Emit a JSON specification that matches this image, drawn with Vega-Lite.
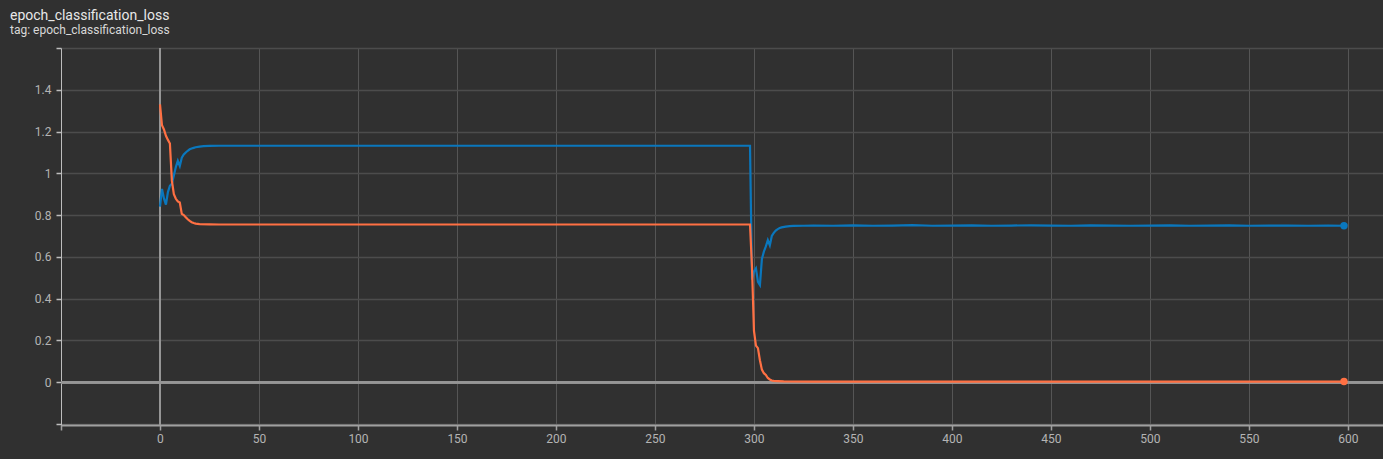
{
  "$schema": "https://vega.github.io/schema/vega-lite/v6.json",
  "autosize": "none",
  "width": 1322,
  "height": 377,
  "padding": {"left": 61, "top": 48, "right": 0, "bottom": 34},
  "background": "#303030",
  "title": {
    "text": "epoch_classification_loss",
    "subtitle": "tag: epoch_classification_loss",
    "anchor": "start",
    "frame": "group",
    "dx": -51,
    "offset": 11,
    "font": "Roboto",
    "fontSize": 14,
    "fontWeight": "normal",
    "color": "#e8e8e8",
    "subtitleFont": "Roboto",
    "subtitleFontSize": 12,
    "subtitleColor": "#d8d8d8",
    "subtitlePadding": 2
  },
  "config": {
    "view": {"stroke": null},
    "axis": {
      "labelFont": "Roboto",
      "labelFontSize": 12,
      "labelColor": "#b4b4b4",
      "tickSize": 5
    }
  },
  "data": {
    "values": [
      {"run": "validation", "step": 0, "value": 0.84},
      {"run": "validation", "step": 1, "value": 0.925},
      {"run": "validation", "step": 2, "value": 0.88},
      {"run": "validation", "step": 3, "value": 0.85},
      {"run": "validation", "step": 4, "value": 0.91},
      {"run": "validation", "step": 5, "value": 0.94},
      {"run": "validation", "step": 6, "value": 0.95},
      {"run": "validation", "step": 7, "value": 0.99},
      {"run": "validation", "step": 8, "value": 1.03},
      {"run": "validation", "step": 9, "value": 1.06},
      {"run": "validation", "step": 10, "value": 1.035},
      {"run": "validation", "step": 11, "value": 1.075},
      {"run": "validation", "step": 12, "value": 1.09},
      {"run": "validation", "step": 13, "value": 1.1},
      {"run": "validation", "step": 14, "value": 1.108},
      {"run": "validation", "step": 15, "value": 1.115},
      {"run": "validation", "step": 16, "value": 1.119},
      {"run": "validation", "step": 17, "value": 1.122},
      {"run": "validation", "step": 18, "value": 1.125},
      {"run": "validation", "step": 20, "value": 1.128},
      {"run": "validation", "step": 22, "value": 1.13},
      {"run": "validation", "step": 25, "value": 1.131},
      {"run": "validation", "step": 30, "value": 1.132},
      {"run": "validation", "step": 40, "value": 1.132},
      {"run": "validation", "step": 50, "value": 1.132},
      {"run": "validation", "step": 60, "value": 1.132},
      {"run": "validation", "step": 70, "value": 1.132},
      {"run": "validation", "step": 80, "value": 1.132},
      {"run": "validation", "step": 90, "value": 1.132},
      {"run": "validation", "step": 100, "value": 1.132},
      {"run": "validation", "step": 120, "value": 1.132},
      {"run": "validation", "step": 140, "value": 1.132},
      {"run": "validation", "step": 160, "value": 1.132},
      {"run": "validation", "step": 180, "value": 1.132},
      {"run": "validation", "step": 200, "value": 1.132},
      {"run": "validation", "step": 220, "value": 1.132},
      {"run": "validation", "step": 240, "value": 1.132},
      {"run": "validation", "step": 260, "value": 1.132},
      {"run": "validation", "step": 280, "value": 1.132},
      {"run": "validation", "step": 298, "value": 1.132},
      {"run": "validation", "step": 299, "value": 0.49},
      {"run": "validation", "step": 300, "value": 0.53},
      {"run": "validation", "step": 301, "value": 0.545},
      {"run": "validation", "step": 302, "value": 0.48},
      {"run": "validation", "step": 303, "value": 0.465},
      {"run": "validation", "step": 304, "value": 0.59},
      {"run": "validation", "step": 305, "value": 0.625},
      {"run": "validation", "step": 306, "value": 0.65},
      {"run": "validation", "step": 307, "value": 0.68},
      {"run": "validation", "step": 308, "value": 0.655},
      {"run": "validation", "step": 309, "value": 0.7},
      {"run": "validation", "step": 310, "value": 0.715},
      {"run": "validation", "step": 311, "value": 0.726},
      {"run": "validation", "step": 312, "value": 0.733},
      {"run": "validation", "step": 313, "value": 0.738},
      {"run": "validation", "step": 314, "value": 0.741},
      {"run": "validation", "step": 316, "value": 0.745},
      {"run": "validation", "step": 318, "value": 0.747},
      {"run": "validation", "step": 320, "value": 0.748},
      {"run": "validation", "step": 325, "value": 0.749},
      {"run": "validation", "step": 330, "value": 0.75},
      {"run": "validation", "step": 340, "value": 0.749},
      {"run": "validation", "step": 350, "value": 0.751},
      {"run": "validation", "step": 360, "value": 0.749},
      {"run": "validation", "step": 370, "value": 0.75},
      {"run": "validation", "step": 380, "value": 0.752},
      {"run": "validation", "step": 390, "value": 0.749},
      {"run": "validation", "step": 400, "value": 0.75},
      {"run": "validation", "step": 410, "value": 0.751},
      {"run": "validation", "step": 420, "value": 0.749},
      {"run": "validation", "step": 430, "value": 0.75},
      {"run": "validation", "step": 440, "value": 0.751},
      {"run": "validation", "step": 450, "value": 0.75},
      {"run": "validation", "step": 460, "value": 0.749},
      {"run": "validation", "step": 470, "value": 0.751},
      {"run": "validation", "step": 480, "value": 0.75},
      {"run": "validation", "step": 490, "value": 0.749},
      {"run": "validation", "step": 500, "value": 0.75},
      {"run": "validation", "step": 510, "value": 0.751},
      {"run": "validation", "step": 520, "value": 0.749},
      {"run": "validation", "step": 530, "value": 0.75},
      {"run": "validation", "step": 540, "value": 0.751},
      {"run": "validation", "step": 550, "value": 0.749},
      {"run": "validation", "step": 560, "value": 0.75},
      {"run": "validation", "step": 570, "value": 0.75},
      {"run": "validation", "step": 580, "value": 0.749},
      {"run": "validation", "step": 590, "value": 0.75},
      {"run": "validation", "step": 598, "value": 0.749},
      {"run": "train", "step": 0, "value": 1.33},
      {"run": "train", "step": 1, "value": 1.23},
      {"run": "train", "step": 2, "value": 1.21},
      {"run": "train", "step": 3, "value": 1.18},
      {"run": "train", "step": 4, "value": 1.16},
      {"run": "train", "step": 5, "value": 1.143},
      {"run": "train", "step": 6, "value": 0.965},
      {"run": "train", "step": 7, "value": 0.9},
      {"run": "train", "step": 8, "value": 0.878},
      {"run": "train", "step": 9, "value": 0.865},
      {"run": "train", "step": 10, "value": 0.86},
      {"run": "train", "step": 11, "value": 0.806},
      {"run": "train", "step": 12, "value": 0.8},
      {"run": "train", "step": 13, "value": 0.79},
      {"run": "train", "step": 14, "value": 0.78},
      {"run": "train", "step": 15, "value": 0.772},
      {"run": "train", "step": 16, "value": 0.766},
      {"run": "train", "step": 17, "value": 0.762},
      {"run": "train", "step": 18, "value": 0.759},
      {"run": "train", "step": 20, "value": 0.757},
      {"run": "train", "step": 25, "value": 0.756},
      {"run": "train", "step": 30, "value": 0.755},
      {"run": "train", "step": 50, "value": 0.755},
      {"run": "train", "step": 100, "value": 0.755},
      {"run": "train", "step": 150, "value": 0.755},
      {"run": "train", "step": 200, "value": 0.755},
      {"run": "train", "step": 250, "value": 0.755},
      {"run": "train", "step": 298, "value": 0.755},
      {"run": "train", "step": 299, "value": 0.55},
      {"run": "train", "step": 300, "value": 0.245},
      {"run": "train", "step": 301, "value": 0.175},
      {"run": "train", "step": 302, "value": 0.163},
      {"run": "train", "step": 303, "value": 0.105},
      {"run": "train", "step": 304, "value": 0.06},
      {"run": "train", "step": 305, "value": 0.043},
      {"run": "train", "step": 306, "value": 0.035},
      {"run": "train", "step": 307, "value": 0.02},
      {"run": "train", "step": 308, "value": 0.013},
      {"run": "train", "step": 309, "value": 0.008},
      {"run": "train", "step": 310, "value": 0.006},
      {"run": "train", "step": 312, "value": 0.005},
      {"run": "train", "step": 315, "value": 0.004},
      {"run": "train", "step": 330, "value": 0.003},
      {"run": "train", "step": 400, "value": 0.003},
      {"run": "train", "step": 500, "value": 0.003},
      {"run": "train", "step": 598, "value": 0.003}
    ]
  },
  "layer": [
    {
      "mark": {"type": "rule", "color": "#959595", "strokeWidth": 2},
      "encoding": {"x": {"datum": 0, "type": "quantitative", "scale": {"domain": [-50, 617.7], "nice": false, "zero": false}}}
    },
    {
      "mark": {"type": "rule", "color": "#959595", "strokeWidth": 2},
      "encoding": {"y": {"datum": 0, "type": "quantitative", "scale": {"domain": [-0.205, 1.6], "nice": false, "zero": false}}}
    },
    {
      "mark": {"type": "line", "strokeWidth": 2.2, "interpolate": "linear"},
      "encoding": {
        "x": {
          "field": "step", "type": "quantitative",
          "scale": {"domain": [-50, 617.7], "nice": false, "zero": false},
          "axis": {
            "title": null,
            "values": [-50, 0, 50, 100, 150, 200, 250, 300, 350, 400, 450, 500, 550, 600],
            "labelExpr": "datum.value < 0 ? '' : datum.label",
            "format": "d",
            "grid": true,
            "gridColor": "#555555",
            "gridWidth": 1,
            "domainColor": "#a0a0a0",
            "domainWidth": 2,
            "tickColor": "#a0a0a0",
            "tickWidth": 1.5,
            "labelPadding": 3
          }
        },
        "y": {
          "field": "value", "type": "quantitative",
          "scale": {"domain": [-0.205, 1.6], "nice": false, "zero": false},
          "axis": {
            "title": null,
            "values": [-0.2, 0, 0.2, 0.4, 0.6, 0.8, 1, 1.2, 1.4, 1.6],
            "format": "~g",
            "labelExpr": "(datum.value < -0.1 || datum.value > 1.5) ? '' : datum.label",
            "grid": true,
            "gridColor": "#4c4c4c",
            "gridWidth": 1.5,
            "domainColor": "#bdbdbd",
            "domainWidth": 1,
            "tickColor": "#bdbdbd",
            "tickWidth": 1.5,
            "labelPadding": 5
          }
        },
        "color": {
          "field": "run", "type": "nominal",
          "scale": {"domain": ["validation", "train"], "range": ["#0a77bd", "#ff7043"]},
          "legend": null
        },
        "order": {"field": "step", "type": "quantitative"}
      }
    },
    {
      "transform": [{"filter": "datum.step == 598"}],
      "mark": {"type": "point", "filled": true, "opacity": 1, "size": 55},
      "encoding": {
        "x": {"field": "step", "type": "quantitative"},
        "y": {"field": "value", "type": "quantitative"},
        "color": {"field": "run", "type": "nominal", "legend": null}
      }
    }
  ]
}
